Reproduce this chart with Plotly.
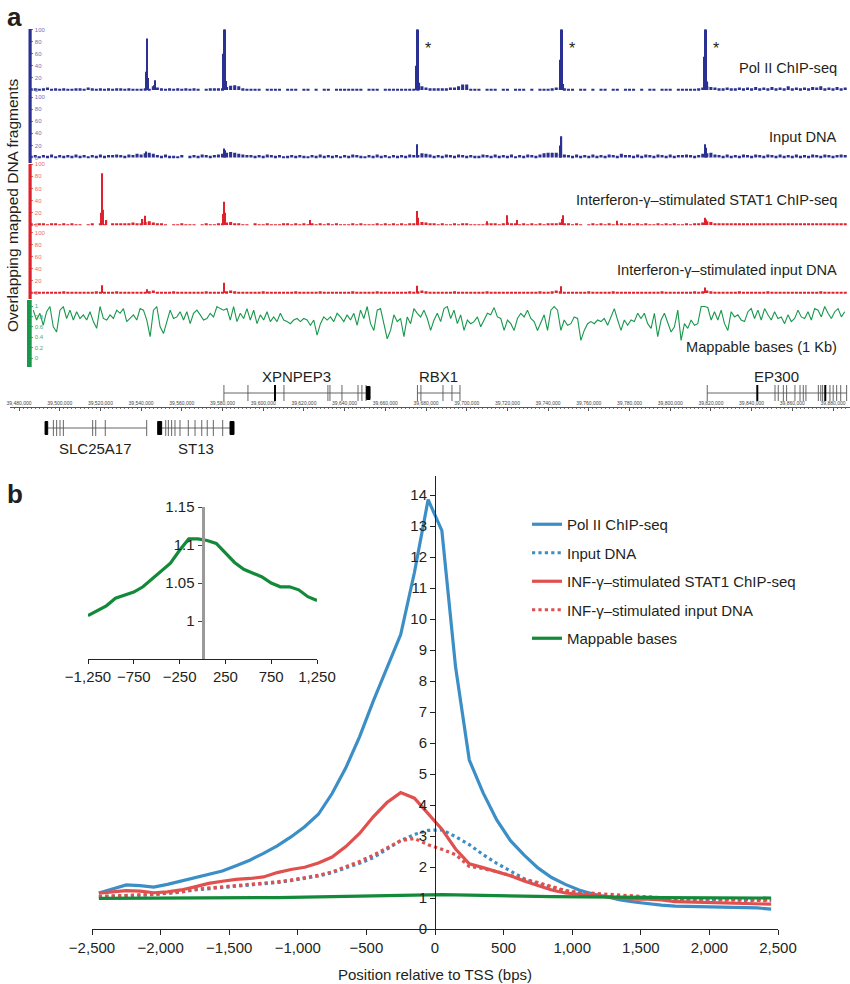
import plotly.graph_objects as go

W, H = 850, 984
FONT = "Liberation Sans, Arial, Helvetica, sans-serif"
INK = "#231f20"

# ---------------- panel a: genome browser tracks ----------------
bin_start, bin_step = 39_486_000, 2_000

polii_bg = [int(c) for c in (
    "3323423232" "2332432323" "2332322232" "6432323232" "3202333357"
    "8631111011" "1101110110" "1011012111" "1101110111" "1112236433"
    "3334469921" "1011101101" "1101011234" "4311011010" "1101101110"
    "1011011101" "1122346543" "3433434353" "4353436343" "4354634353" "4")]
input_bg = [int(c) for c in (
    "3424352434" "3534243534" "4543546578" "6435332403" "4354345689"
    "8654434354" "3423434324" "3534342435" "4324353424" "3435447653"
    "4354354343" "3543534352" "4354357888" "6543534353" "4354364435"
    "3543543534" "4543467854" "3534354354" "3543534353" "4354354345" "4")]
stat1_bg = [int(c) for c in (
    "2122123121" "2110120310" "3232342356" "4321011211" "1012112345"
    "3211021121" "1122121213" "1212121112" "1211121212" "1212335422"
    "1211212211" "1122213422" "1212121223" "4321210121" "2131121212"
    "1211212121" "1212346532" "2323232323" "2322323232" "3232323232" "2")]
stat1_input_bg = [int(c) for c in (
    "1211212131" "2121213212" "1312121223" "4212131212" "1213121234"
    "3212121312" "1212131212" "1312121213" "1212131212" "1213234321"
    "2121312121" "2131212121" "1212131234" "3212121312" "1213121212"
    "1212131212" "1213234321" "2121312121" "1312121212" "2121312121" "2")]

polii_peak_pos = [39_542_400, 39_542_900, 39_543_500, 39_546_300, 39_546_800,
                  39_580_200, 39_580_700, 39_581_300, 39_581_900,
                  39_675_100, 39_675_600, 39_676_200, 39_676_800,
                  39_745_800, 39_746_300, 39_746_900, 39_747_500,
                  39_816_600, 39_817_100, 39_817_700, 39_818_300]
polii_peak_val = [30, 85, 20, 8, 16, 60, 100, 100, 15, 40, 100, 100, 12,
                  50, 100, 100, 10, 55, 100, 100, 14]
input_peak_pos = [39_542_600, 39_580_700, 39_581_300, 39_675_600,
                  39_746_000, 39_746_600, 39_817_100, 39_817_700]
input_peak_val = [10, 15, 12, 22, 20, 35, 22, 16]
stat1_peak_pos = [39_520_200, 39_520_800, 39_521_400, 39_523_000, 39_540_700,
                  39_541_900, 39_580_100, 39_580_700, 39_581_300, 39_623_000,
                  39_675_600, 39_676_200, 39_710_000, 39_719_800, 39_724_700,
                  39_746_700, 39_747_300, 39_773_900, 39_817_100, 39_817_700]
stat1_peak_val = [20, 85, 25, 8, 10, 15, 18, 38, 20, 8, 23, 12, 6, 16, 8,
                  10, 16, 7, 12, 9]
stat1_input_peak_pos = [39_520_800, 39_542_900, 39_580_700, 39_675_600,
                        39_746_300, 39_817_100]
stat1_input_peak_val = [13, 6, 17, 12, 11, 9]

mappable_start, mappable_step = 39_487_000, 1_641
mappable_frac = [
    .92, .73, .86, .63, .89, .99, .60, .50, .92, .99, .76, .92, .73, .89, .76, .83, .73, .89, .70, .57,
    .99, .76, .73, .83, .76, .92, .86, .95, .70, .76, .83, .73, .95, .92, .73, .41, .92, .99, .60, .47,
    .70, .92, .76, .79, .89, .73, .89, .66, .86, .92, .83, .73, .76, .86, .79, .99, .95, .92, .95, .73,
    .99, .70, .86, .76, .95, .73, .92, .66, .83, .73, .89, .70, .79, .70, .86, .73, .70, .66, .73, .76,
    .70, .76, .73, .63, .73, .44, .66, .79, .73, .79, .70, .86, .79, .70, .83, .73, .86, .63, .92, .76,
    .99, .66, .53, .92, .95, .66, .37, .53, .83, .70,
    .76, .41, .79, .66, .95, .86, .79, .92, .76, .53, .73, .86, .70, .95, .99, .76, .92, .66, .83, .53,
    .73, .66, .70, .79, .60, .73, .86, .83, .97, .79, .76, .53, .73, .66, .53, .76, .86, .79, .92, .76,
    .70, .53, .70, .83, .53, .92, .99, .92, .53, .73, .63, .66, .79, .76, .34, .53, .66, .70, .66, .73,
    .70, .76, .63, .79, .95, .73, .53, .73, .63, .73, .70, .86, .76, .86, .66, .57, .86, .41, .73, .86,
    .66, .50, .60, .92, .34, .66, .57, .73, .63, .66, .99, .99, .97, .73, .89, .73, .92, .66, .53, .89,
    .79, .83, .73, .70, .89, .95, .76, .92, .73, .95, .83, .73, .89, .76, .79, .66, .83, .70, .76, .92,
    .79, .76, .89, .73, .95, .92, .79, .99, .86, .76, .89, .95, .79, .89]

track_labels = ["Pol II ChIP-seq", "Input DNA",
                "Interferon-\u03b3\u2013stimulated STAT1 ChIP-seq",
                "Interferon-\u03b3\u2013stimulated input DNA",
                "Mappable bases (1 Kb)"]
star_pos = [39_675_600, 39_746_300, 39_817_100]

gene_names = ["XPNPEP3", "RBX1", "EP300", "SLC25A17", "ST13"]
gene_row = [1, 1, 1, 0, 0]
gene_start = [39_580_700, 39_675_800, 39_818_200, 39_492_800, 39_548_150]
gene_end = [39_652_500, 39_696_700, 39_886_700, 39_542_750, 39_585_650]
gene_exons = [
    [39_580_700, 39_592_500, 39_610_200, 39_631_800, 39_632_800, 39_638_700,
     39_646_600, 39_648_500, 39_650_500],
    [39_675_800, 39_677_500, 39_688_350, 39_692_750, 39_696_700],
    [39_818_200, 39_851_500, 39_853_100, 39_855_600, 39_857_200, 39_861_300,
     39_863_800, 39_865_400, 39_866_700, 39_872_800, 39_874_000, 39_874_900,
     39_878_500, 39_880_100, 39_881_800, 39_883_800, 39_886_700],
    [39_496_900, 39_498_500, 39_500_150, 39_501_800, 39_516_200, 39_517_700,
     39_522_400, 39_542_750],
    [39_552_100, 39_553_400, 39_555_000, 39_556_650, 39_559_100, 39_563_200,
     39_566_500, 39_569_800, 39_572_500, 39_575_500, 39_580_100]]
gene_major_exons = [[39_605_800], [], [39_842_800, 39_876_200], [], []]
gene_blocks = [[(39_650_800, 39_652_500)], [], [],
               [(39_492_800, 39_494_100)],
               [(39_548_150, 39_550_100), (39_583_700, 39_585_650)]]

# ---------------- panel b: TSS profile ----------------
tss_pos = [-2450, -2350, -2250, -2150, -2050, -1950, -1850, -1750, -1650, -1550,
           -1450, -1350, -1250, -1150, -1050, -950, -850, -750, -650, -550,
           -450, -350, -250, -150, -50, 50, 150, 250, 350, 450,
           550, 650, 750, 850, 950, 1050, 1150, 1250, 1350, 1450,
           1550, 1650, 1750, 1850, 1950, 2050, 2150, 2250, 2350, 2450]
pol2_chip = [1.16, 1.28, 1.42, 1.40, 1.35, 1.44, 1.55, 1.66, 1.75, 1.87,
             2.04, 2.22, 2.44, 2.68, 2.97, 3.30, 3.70, 4.37, 5.20, 6.20,
             7.35, 8.40, 9.50, 11.50, 13.85, 12.85, 8.45, 5.45, 4.40, 3.52,
             2.85, 2.38, 1.97, 1.66, 1.44, 1.26, 1.13, 1.04, 0.94, 0.87,
             0.81, 0.77, 0.74, 0.73, 0.72, 0.72, 0.71, 0.70, 0.68, 0.64]
input_dna = [1.04, 1.05, 1.07, 1.09, 1.11, 1.14, 1.19, 1.26, 1.30, 1.34,
             1.38, 1.42, 1.45, 1.50, 1.56, 1.63, 1.71, 1.82, 1.97, 2.12,
             2.30, 2.58, 2.85, 3.05, 3.18, 3.20, 2.98, 2.72, 2.40, 2.12,
             1.86, 1.62, 1.46, 1.34, 1.22, 1.15, 1.10, 1.05, 1.02, 1.00,
             0.98, 0.96, 0.95, 0.94, 0.94, 0.93, 0.93, 0.92, 0.92, 0.92]
stat1_chip = [1.16, 1.20, 1.24, 1.22, 1.17, 1.20, 1.26, 1.36, 1.47, 1.54,
              1.60, 1.63, 1.68, 1.82, 1.92, 1.99, 2.13, 2.32, 2.66, 3.08,
              3.62, 4.08, 4.40, 4.22, 3.72, 3.22, 2.58, 2.10, 1.98, 1.86,
              1.72, 1.55, 1.40, 1.26, 1.16, 1.12, 1.10, 1.06, 1.02, 0.96,
              0.96, 0.94, 0.88, 0.87, 0.86, 0.85, 0.84, 0.83, 0.82, 0.80]
stat1_input = [1.05, 1.06, 1.08, 1.10, 1.12, 1.15, 1.20, 1.28, 1.32, 1.36,
               1.40, 1.44, 1.47, 1.52, 1.58, 1.65, 1.73, 1.84, 2.00, 2.18,
               2.38, 2.62, 2.85, 2.92, 2.72, 2.57, 2.40, 2.02, 1.95, 1.85,
               1.72, 1.60, 1.50, 1.38, 1.24, 1.18, 1.15, 1.12, 1.08, 1.05,
               1.03, 1.00, 0.98, 0.97, 0.96, 0.96, 0.95, 0.95, 0.94, 0.94]
mappable_avg = [0.99, 0.99, 0.99, 1.00, 1.00, 1.00, 1.00, 1.00, 1.00, 1.00,
                1.00, 1.01, 1.007, 1.014, 1.020, 1.030, 1.034, 1.038, 1.045, 1.055,
                1.065, 1.076, 1.093, 1.108, 1.108, 1.106, 1.102, 1.090, 1.077, 1.068,
                1.063, 1.058, 1.050, 1.045, 1.045, 1.041, 1.032, 1.027, 1.02, 1.02,
                1.02, 1.01, 1.01, 1.01, 1.01, 1.00, 1.00, 1.00, 1.00, 1.00]
profile_names = ["Pol II ChIP-seq", "Input DNA",
                 "INF-\u03b3\u2013stimulated STAT1 ChIP-seq",
                 "INF-\u03b3\u2013stimulated input DNA", "Mappable bases"]
b_xtick_vals = [-2500, -2000, -1500, -1000, -500, 0, 500, 1000, 1500, 2000, 2500]
b_xtick_text = ["\u22122,500", "\u22122,000", "\u22121,500", "\u22121,000", "\u2212500",
                "0", "500", "1,000", "1,500", "2,000", "2,500"]
inset_xtick_vals = [-1250, -750, -250, 250, 750, 1250]
inset_xtick_text = ["\u22121,250", "\u2212750", "\u2212250", "250", "750", "1,250"]
inset_ytick_vals = [1, 1.05, 1.1, 1.15]
inset_ytick_text = ["1", "1.05", "1.1", "1.15"]


def xdom(left, right):
    return [left / W, right / W]


def ydom(top, bottom):
    return [1 - bottom / H, 1 - top / H]


def px2pos(px):
    # browser ruler: 39,480,000 sits at x=19px, 2.035 px per kb
    return 39_480_000 + (px - 19) / 0.002035


NAVY, RED, GREEN = "#2b3192", "#e0202a", "#17984c"
NAVY_T, RED_T, GREEN_T = "#6f72b4", "#ec6b6b", "#45ad72"   # lighter tick label tints
BLUE_B, RED_B, GREEN_B = "#3c8fc6", "#e0504e", "#138a3a"

fig = go.Figure()

tracks = [(polii_bg, polii_peak_pos, polii_peak_val, NAVY, NAVY_T),
          (input_bg, input_peak_pos, input_peak_val, NAVY, NAVY_T),
          (stat1_bg, stat1_peak_pos, stat1_peak_val, RED, RED_T),
          (stat1_input_bg, stat1_input_peak_pos, stat1_input_peak_val, RED, RED_T)]
# pixel rows of the value 100 (top) and 0 (bottom) in each track
track_px = [(29.5, 90), (97, 157.5), (164, 225), (232.5, 293)]

bins = [bin_start + i * bin_step for i in range(len(polii_bg))]
for k, (bg, ppos, pval, col, _) in enumerate(tracks, start=1):
    fig.add_trace(go.Bar(x=bins + ppos, y=bg + pval,
                         width=[1500] * len(bins) + [650] * len(ppos),
                         marker=dict(color=col, line_width=0),
                         xaxis="x", yaxis="y" if k == 1 else f"y{k}",
                         showlegend=False, hoverinfo="skip"))

mappable_x = [mappable_start + i * mappable_step for i in range(len(mappable_frac))]
fig.add_trace(go.Scatter(x=mappable_x, y=mappable_frac, mode="lines",
                         line=dict(color=GREEN, width=1.1),
                         xaxis="x", yaxis="y5", showlegend=False, hoverinfo="skip"))

# gene models
row_y = {1: 0.67, 0: 0.32}
ix, iy, ex, ey, mx, my, bx, by = [], [], [], [], [], [], [], []
for s, e, r, exs, majors, blocks in zip(gene_start, gene_end, gene_row,
                                        gene_exons, gene_major_exons, gene_blocks):
    y0 = row_y[r]
    ix += [s, e, None]
    iy += [y0, y0, None]
    for p in exs:
        ex += [p, p, None]
        ey += [y0 - 0.08, y0 + 0.08, None]
    for p in majors:
        mx += [p, p, None]
        my += [y0 - 0.08, y0 + 0.08, None]
    for a, b in blocks:
        bx += [a, b, b, a, a, None]
        by += [y0 - 0.065, y0 - 0.065, y0 + 0.065, y0 + 0.065, y0 - 0.065, None]

fig.add_trace(go.Scatter(x=ix, y=iy, mode="lines", line=dict(color="#555", width=0.9),
                         xaxis="x", yaxis="y6", showlegend=False, hoverinfo="skip"))
fig.add_trace(go.Scatter(x=ex, y=ey, mode="lines", line=dict(color="#555", width=0.9),
                         xaxis="x", yaxis="y6", showlegend=False, hoverinfo="skip"))
fig.add_trace(go.Scatter(x=mx, y=my, mode="lines", line=dict(color="#000", width=2),
                         xaxis="x", yaxis="y6", showlegend=False, hoverinfo="skip"))
fig.add_trace(go.Scatter(x=bx, y=by, mode="lines", fill="toself", fillcolor="#000",
                         line=dict(color="#000", width=1),
                         xaxis="x", yaxis="y6", showlegend=False, hoverinfo="skip"))
# ruler holder
fig.add_trace(go.Scatter(x=[None], y=[None], xaxis="x2", yaxis="y7",
                         showlegend=False, hoverinfo="skip"))

# ---- panel b traces ----
series = [pol2_chip, input_dna, stat1_chip, stat1_input, mappable_avg]
colors = [BLUE_B, BLUE_B, RED_B, RED_B, GREEN_B]
dashes = ["solid", "dot", "solid", "dot", "solid"]
for name, vals, col, dash in zip(profile_names, series, colors, dashes):
    fig.add_trace(go.Scatter(x=tss_pos, y=vals, mode="lines", name=name,
                             legendgroup=name,
                             line=dict(color=col, width=3.2, dash=dash),
                             xaxis="x3", yaxis="y8"))

inset_x = [p for p in tss_pos if abs(p) <= 1250]
inset_y = [v for p, v in zip(tss_pos, mappable_avg) if abs(p) <= 1250]
fig.add_trace(go.Scatter(x=inset_x, y=inset_y, mode="lines", showlegend=False,
                         line=dict(color=GREEN_B, width=3.2),
                         xaxis="x4", yaxis="y9"))

# ---- layout ----
PAD = 0.06  # extra range so the 0 and top tick labels stay visible
track_axis = dict(showgrid=False, zeroline=False, showline=False, anchor="x",
                  ticklabelposition="inside", ticks="inside", ticklen=2,
                  fixedrange=True, automargin=False)


def padded(top, bot, vmax):
    span = bot - top
    return (ydom(top - PAD * span, bot + PAD * span),
            [-PAD * vmax, vmax * (1 + PAD)])


lay = dict(
    template="none",
    width=W, height=H, margin=dict(l=0, r=0, t=0, b=0, autoexpand=False),
    paper_bgcolor="white", plot_bgcolor="rgba(0,0,0,0)",
    barmode="overlay", font=dict(family=FONT, color=INK),
    xaxis=dict(domain=xdom(31, 850), range=[px2pos(31), px2pos(850)],
               visible=False, anchor="y", automargin=False),
)
for k, ((top, bot), (_, _, _, col, tint)) in enumerate(zip(track_px, tracks), start=1):
    dom, rng = padded(top, bot, 100)
    lay["yaxis" if k == 1 else f"yaxis{k}"] = dict(
        track_axis, domain=dom, range=rng,
        tickvals=[0, 20, 40, 60, 80, 100], tickcolor=tint,
        tickfont=dict(size=6, color=tint))
dom, rng = padded(306, 358, 1)
lay["yaxis5"] = dict(track_axis, domain=dom, range=rng,
                     tickvals=[0, 0.2, 0.4, 0.6, 0.8, 1], tickcolor=GREEN_T,
                     tickfont=dict(size=6, color=GREEN_T))
lay["yaxis6"] = dict(domain=ydom(360, 460), range=[0, 1], visible=False, anchor="x",
                     automargin=False)
lay["xaxis2"] = dict(domain=xdom(10, 850), range=[px2pos(10), px2pos(850)],
                     anchor="y7", side="top", showline=True, linecolor="#555",
                     linewidth=0.7, ticks="inside", ticklen=3, tickcolor="#555",
                     tick0=39_480_000, dtick=20_000, tickformat=",d",
                     tickfont=dict(size=5, color="#444"), showgrid=False,
                     zeroline=False, automargin=False,
                     minor=dict(dtick=2_000, ticks="inside", ticklen=1.5,
                                tickcolor="#777", showgrid=False))
lay["yaxis7"] = dict(domain=ydom(408, 412), range=[0, 1], visible=False, anchor="x2",
                     automargin=False)

b_axis = dict(showline=True, linecolor="#222", linewidth=1, showgrid=False,
              zeroline=False, ticks="outside", tickcolor="#222", automargin=False,
              tickfont=dict(size=15, color=INK))
lay["xaxis3"] = dict(b_axis, domain=xdom(92, 778), range=[-2500, 2500], anchor="y8",
                     tickvals=b_xtick_vals, ticktext=b_xtick_text, ticklen=5)
lay["yaxis8"] = dict(b_axis, domain=ydom(476.4, 929), range=[0, 14.6], anchor="free",
                     position=435 / W, tickvals=list(range(0, 15)), ticklen=5)
lay["xaxis4"] = dict(b_axis, domain=xdom(88, 317), range=[-1250, 1250], anchor="y9",
                     tickvals=inset_xtick_vals, ticktext=inset_xtick_text, ticklen=4)
lay["yaxis9"] = dict(b_axis, domain=ydom(507, 659), range=[0.95, 1.15], anchor="free",
                     position=202.5 / W, tickvals=inset_ytick_vals,
                     ticktext=inset_ytick_text, ticklen=4, tickcolor="#444")
lay["yaxis9"]["linecolor"] = "#9a9a9a"
lay["yaxis9"]["linewidth"] = 3
lay["legend"] = dict(x=527 / W, y=1 - 508 / H, xanchor="left", yanchor="top",
                     font=dict(size=15, color=INK), tracegroupgap=6,
                     bgcolor="rgba(0,0,0,0)", itemwidth=30)
fig.update_layout(**lay)

# colour bars at the left of the tracks
for top, bot, col, x0 in [(29, 163, NAVY, 28.5), (164, 299, RED, 28.5), (300, 367, GREEN, 27)]:
    fig.add_shape(type="rect", xref="paper", yref="paper", x0=x0 / W, x1=31.7 / W,
                  y0=1 - bot / H, y1=1 - top / H, fillcolor=col, line_width=0)


def ann(text, xpx, ypx, size, anchor="center", **kw):
    fig.add_annotation(text=text, xref="paper", yref="paper", x=xpx / W, y=1 - ypx / H,
                       xanchor=anchor, yanchor="middle", showarrow=False,
                       font=dict(size=size, color=INK, family=FONT), **kw)


ann("<b>a</b>", 5, 17, 26, "left")
ann("<b>b</b>", 5, 494, 26, "left")
ann("Overlapping mapped DNA fragments", 12, 205, 15.5, textangle=-90)
for text, ypx in zip(track_labels, [68, 137, 200, 270, 347]):
    ann(text, 839, ypx, 14.6, "right")
ann("Position relative to TSS (bps)", 435, 974, 15)

for p in star_pos:
    fig.add_annotation(text="*", xref="x", yref="paper", x=p, y=1 - 38 / H, xshift=11,
                       showarrow=False, font=dict(size=16, color=INK, family=FONT))
for name, s, e, r in zip(gene_names, gene_start, gene_end, gene_row):
    fig.add_annotation(text=name, xref="x", yref="paper", x=(s + e) / 2,
                       y=1 - (377 if r == 1 else 448) / H, showarrow=False,
                       font=dict(size=15, color=INK, family=FONT))

fig.write_html("out.html", config={"displayModeBar": False},
               post_script="document.body.style.margin='0';")
